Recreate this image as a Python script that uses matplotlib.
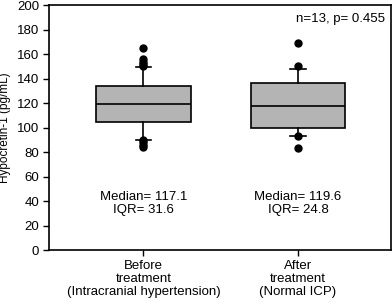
import matplotlib
matplotlib.use("Agg")
import matplotlib.pyplot as plt

plt.rcParams["font.family"] = ["Liberation Sans", "DejaVu Sans"]
plt.rcParams["font.size"] = 9.5

# Box plot summary values
labels = ["Before\ntreatment\n(Intracranial hypertension)", "After\ntreatment\n(Normal ICP)"]
medians = [119, 118]
q1 = [104.5, 99.6]
q3 = [134, 136.3]
whisker_low = [89.5, 93.3]
whisker_high = [149.6, 148]
outliers = [[165, 156, 154, 152, 150, 90, 88, 86, 84], [169.5, 150, 93, 83.5]]
notes = ["Median= 117.1\nIQR= 31.6", "Median= 119.6\nIQR= 24.8"]

stats = []
for i in range(len(labels)):
    stats.append({
        "med": medians[i], "q1": q1[i], "q3": q3[i],
        "whislo": whisker_low[i], "whishi": whisker_high[i],
        "fliers": outliers[i], "label": labels[i],
    })

fig = plt.figure(figsize=(3.92, 3.06), dpi=100)
ax = fig.add_axes([0.125, 0.183, 0.872, 0.80])

ax.bxp(stats, positions=[1, 2], widths=0.61, patch_artist=True,
       boxprops=dict(facecolor="#b4b4b4", edgecolor="black", linewidth=1.2),
       medianprops=dict(color="black", linewidth=1.2),
       whiskerprops=dict(color="black", linewidth=1.2),
       capprops=dict(color="black", linewidth=1.2),
       capwidths=0.1,
       flierprops=dict(marker="o", markerfacecolor="black", markeredgecolor="black", markersize=5))

for i, note in enumerate(notes):
    ax.text(i + 1, 38, note, ha="center", va="center", linespacing=1.2)

ax.text(2.56, 188.5, "n=13, p= 0.455", ha="right", va="center")

ax.set_xlim(0.39, 2.6)
ax.set_ylim(0, 200)
ax.set_yticks(range(0, 201, 20))
ax.set_xticks([1, 2])
ax.set_xticklabels(labels, linespacing=1.15)
ax.tick_params(direction="out", length=4, width=1, pad=3)
ax.set_ylabel("Hypocretin-1 (pg/mL)", fontsize=8.5)
ax.yaxis.set_label_coords(-0.11, 0.5)
for s in ax.spines.values():
    s.set_linewidth(1.2)

plt.savefig("out.png", dpi=100)
